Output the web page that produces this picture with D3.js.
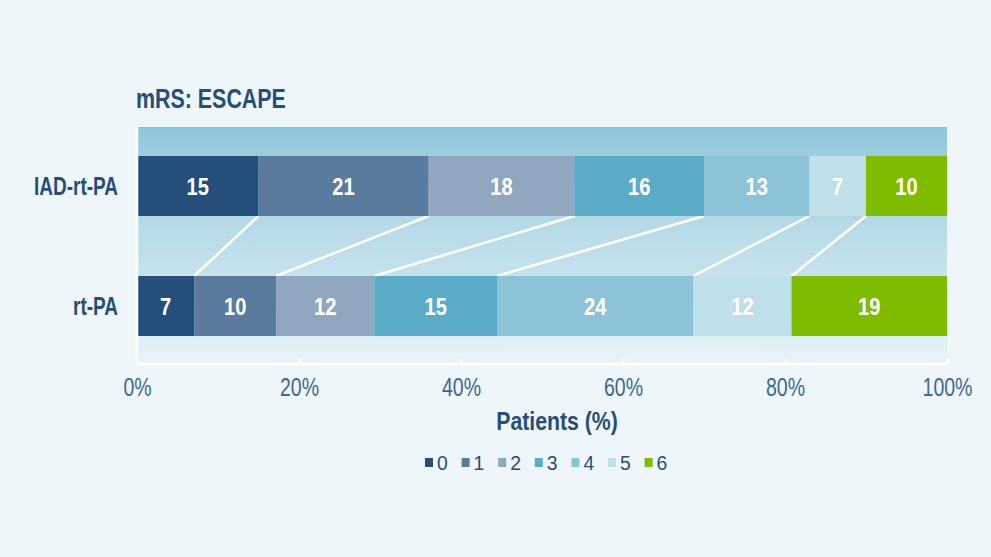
<!DOCTYPE html>
<html>
<head>
<meta charset="utf-8">
<script src="https://cdn.jsdelivr.net/npm/d3@7"></script>
<style>
  body { margin: 0; background: #eef6fa; }
  svg { display: block; font-family: "Liberation Sans", Arial, sans-serif; }
</style>
</head>
<body>
<div id="chart"></div>
<script>
// data
const groups = ['IAD-rt-PA', 'rt-PA'];
const levels = ['0', '1', '2', '3', '4', '5', '6'];
const iadValues = [15, 21, 18, 16, 13, 7, 10];
const rtpaValues = [7, 10, 12, 15, 24, 12, 19];
const xTicks = [0, 20, 40, 60, 80, 100];
const colors = ['#244f7a', '#5a7a9e', '#91a7bf', '#5aabc5', '#8cc3d7', '#bfdfe9', '#7fbc00'];

const W = 991, H = 557;
const margin = {left: 137, right: 44, top: 127, bottom: 195};
const darkBlue = '#264e78';

const svg = d3.select('#chart').append('svg')
  .attr('width', W)
  .attr('height', H);

svg.append('rect').attr('width', W).attr('height', H).attr('fill', '#eef6fa');

// no condensed font installed, so squeeze text horizontally
function squeeze(sel, s, px, py) {
  sel.attr('x', 0).attr('y', 0)
    .attr('transform', (d, i) => 'translate(' + px(d, i) + ',' + py(d, i) + ') scale(' + s + ',1)');
}

const x = d3.scaleLinear().domain([0, 100]).range([margin.left, W - margin.right]);
const y = d3.scaleBand().domain(groups).range([156, 336]).paddingInner(0.5).paddingOuter(0);

// plot background gradient
const grad = svg.append('defs').append('linearGradient')
  .attr('id', 'bg').attr('x1', 0).attr('y1', 0).attr('x2', 0).attr('y2', 1);
grad.append('stop').attr('offset', '0%').attr('stop-color', '#8cc5d9');
grad.append('stop').attr('offset', '20%').attr('stop-color', '#a6d2e1');
grad.append('stop').attr('offset', '60%').attr('stop-color', '#c3e1eb');
grad.append('stop').attr('offset', '100%').attr('stop-color', '#e8f3f7');

svg.append('rect')
  .attr('x', x(0)).attr('y', margin.top)
  .attr('width', x(100) - x(0)).attr('height', 362 - margin.top)
  .attr('fill', 'url(#bg)');

// stacked rows, normalised to 100%
function stackRow(vals) {
  const total = d3.sum(vals);
  let acc = 0;
  return vals.map((v, i) => {
    const s = acc;
    acc += v / total * 100;
    return {level: levels[i], value: v, x0: s, x1: acc};
  });
}
const rows = [
  {group: groups[0], segs: stackRow(iadValues)},
  {group: groups[1], segs: stackRow(rtpaValues)}
];

// connector lines between the two bars
const upper = rows[0].segs, lower = rows[1].segs;
svg.append('g').selectAll('line')
  .data(d3.range(upper.length - 1))
  .enter().append('line')
    .attr('x1', i => x(upper[i].x1))
    .attr('y1', y(groups[0]) + y.bandwidth())
    .attr('x2', i => x(lower[i].x1))
    .attr('y2', y(groups[1]))
    .attr('stroke', '#ffffff')
    .attr('stroke-width', 2.5);

const rowG = svg.append('g').selectAll('g')
  .data(rows)
  .enter().append('g');

rowG.selectAll('rect')
  .data(d => d.segs.map(s => Object.assign({group: d.group}, s)))
  .enter().append('rect')
    .attr('x', d => x(d.x0))
    .attr('y', d => y(d.group))
    .attr('width', d => x(d.x1) - x(d.x0))
    .attr('height', y.bandwidth())
    .attr('fill', (d, i) => colors[i]);

rowG.selectAll('text')
  .data(d => d.segs.map(s => Object.assign({group: d.group}, s)))
  .enter().append('text')
    .attr('dy', '0.36em')
    .attr('text-anchor', 'middle')
    .attr('fill', '#ffffff')
    .attr('font-weight', 'bold')
    .attr('font-size', 24)
    .text(d => d.value)
    .call(squeeze, 0.84, d => (x(d.x0) + x(d.x1)) / 2, d => y(d.group) + y.bandwidth() / 2);

// axes lines (white)
svg.append('line')
  .attr('x1', x(0)).attr('x2', x(0)).attr('y1', margin.top).attr('y2', 364)
  .attr('stroke', '#ffffff').attr('stroke-width', 2.5);
svg.append('line')
  .attr('x1', x(0)).attr('x2', x(100)).attr('y1', 364).attr('y2', 364)
  .attr('stroke', '#ffffff').attr('stroke-width', 2.5);

const xAxis = svg.append('g')
  .attr('transform', 'translate(0,364)')
  .call(d3.axisBottom(x).tickValues(xTicks).tickSize(-5).tickPadding(14).tickFormat(d => d + '%'));
xAxis.select('.domain').remove();
xAxis.selectAll('.tick line').attr('stroke', '#ffffff').attr('stroke-width', 2);
xAxis.selectAll('.tick text')
  .attr('fill', '#3c6894')
  .attr('font-size', 25)
  .attr('font-family', '"Liberation Sans", Arial, sans-serif')
  .attr('transform', 'scale(0.78,1)');

// y labels
svg.append('g').selectAll('text')
  .data(groups)
  .enter().append('text')
    .attr('dy', '0.36em')
    .attr('text-anchor', 'end')
    .attr('fill', darkBlue)
    .attr('font-weight', 'bold')
    .attr('font-size', 25)
    .text(d => d)
    .call(squeeze, 0.76, () => 118, d => y(d) + y.bandwidth() / 2);

// title
svg.append('text')
  .attr('fill', darkBlue)
  .attr('font-weight', 'bold')
  .attr('font-size', 28)
  .text('mRS: ESCAPE')
  .call(squeeze, 0.765, () => 136, () => 108);

// x axis title
svg.append('text')
  .attr('text-anchor', 'middle')
  .attr('fill', darkBlue)
  .attr('font-weight', 'bold')
  .attr('font-size', 25)
  .text('Patients (%)')
  .call(squeeze, 0.85, () => 557, () => 430);

// legend
const legend = svg.append('g').selectAll('g')
  .data(levels)
  .enter().append('g')
    .attr('transform', (d, i) => 'translate(' + (425 + i * 36.6) + ',0)');
legend.append('rect')
  .attr('x', 0).attr('y', 458).attr('width', 8).attr('height', 9)
  .attr('fill', (d, i) => colors[i]);
legend.append('text')
  .attr('fill', darkBlue)
  .attr('font-size', 21)
  .text(d => d)
  .call(squeeze, 0.92, () => 12, () => 470);
</script>
</body>
</html>
